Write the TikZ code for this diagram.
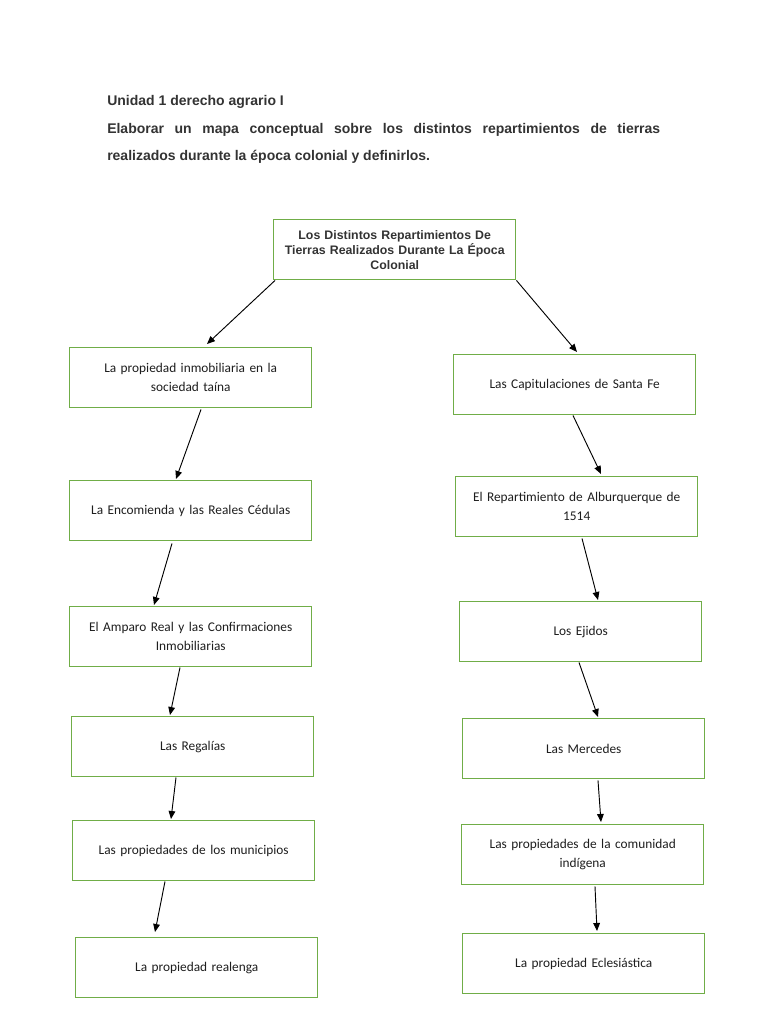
\documentclass[tikz,border=0pt]{standalone}
\usepackage{fontspec}
\setmainfont{Carlito}
\newfontfamily\arialfont{Liberation Sans}
\usetikzlibrary{arrows.meta,calc}
\definecolor{boxgreen}{RGB}{112,173,71}
\definecolor{txtgray}{RGB}{30,30,30}
\definecolor{headgray}{RGB}{51,51,51}
\tikzset{
  box/.style={draw=boxgreen, line width=1.1pt, fill=white, anchor=north west,
    minimum width=181.5pt, minimum height=45pt, inner sep=0pt,
    text width=170pt, align=center, text=txtgray,
    font=\fontsize{10}{14.25}\selectfont},
  topbox/.style={box, text width=175pt, text=headgray,
    font=\arialfont\bfseries\fontsize{9.25}{11.25}\selectfont},
  conn/.style={draw=black, line width=0.7pt, -{Triangle[length=6pt,width=5pt]}},
  head/.style={anchor=base west, inner sep=0pt, text=headgray,
    font=\arialfont\bfseries\fontsize{10.5}{20}\selectfont}
}
\begin{document}
\begin{tikzpicture}[x=0.75pt,y=-0.75pt]
\useasboundingbox[fill=white] (0,0) rectangle (768,1024);
% header
\node[head] (h1) at (107,105) {Unidad 1 derecho agrario I};
\node[head] (h2) at (107,133) {\makebox[414.75pt][s]{Elaborar un mapa conceptual sobre los distintos repartimientos de tierras}};
\node[head] (h3) at (107,160) {realizados durante la época colonial y definirlos.};
% boxes
\node[topbox] (top) at (273,219) {Los Distintos Repartimientos De\\Tierras Realizados Durante La Época\\Colonial};
\node[box] (L1) at (69,347) {La propiedad inmobiliaria en la\\sociedad taína};
\node[box] (L2) at (69,480) {La Encomienda y las Reales Cédulas};
\node[box] (L3) at (69,606) {El Amparo Real y las Confirmaciones\\Inmobiliarias};
\node[box] (L4) at (71,716) {Las Regalías};
\node[box] (L5) at (72,820) {Las propiedades de los municipios};
\node[box] (L6) at (75,937) {La propiedad realenga};
\node[box] (R1) at (453,354) {Las Capitulaciones de Santa Fe};
\node[box] (R2) at (455,476) {El Repartimiento de Alburquerque de\\1514};
\node[box] (R3) at (459,601) {Los Ejidos};
\node[box] (R4) at (462,718) {Las Mercedes};
\node[box] (R5) at (461,824) {Las propiedades de la comunidad\\indígena};
\node[box] (R6) at (462,933) {La propiedad Eclesiástica};
% connectors
\draw[conn] ($(top.south west)+(2,0)$) -- ($(L1.north west)+(138,-3)$);
\draw[conn] ($(top.south east)+(0,0)$) -- ($(R1.north west)+(124,-2)$);
\draw[conn] ($(L1.south west)+(132,1)$) -- ($(L2.north west)+(107,-1)$);
\draw[conn] ($(L2.south west)+(103,2)$) -- ($(L3.north west)+(85,-1)$);
\draw[conn] ($(L3.south west)+(111,0)$) -- ($(L4.north west)+(99,-1)$);
\draw[conn] ($(L4.south west)+(105,0)$) -- ($(L5.north west)+(99,-1)$);
\draw[conn] ($(L5.south west)+(93,0)$) -- ($(L6.north west)+(80,-5)$);
\draw[conn] ($(R1.south west)+(120,0)$) -- ($(R2.north west)+(146,-2)$);
\draw[conn] ($(R2.south west)+(127,1)$) -- ($(R3.north west)+(139,-1)$);
\draw[conn] ($(R3.south west)+(120,0)$) -- ($(R4.north west)+(136,-1)$);
\draw[conn] ($(R4.south west)+(136,1)$) -- ($(R5.north west)+(140,-2)$);
\draw[conn] ($(R5.south west)+(134,1)$) -- ($(R6.north west)+(135,-2)$);
\end{tikzpicture}
\end{document}
